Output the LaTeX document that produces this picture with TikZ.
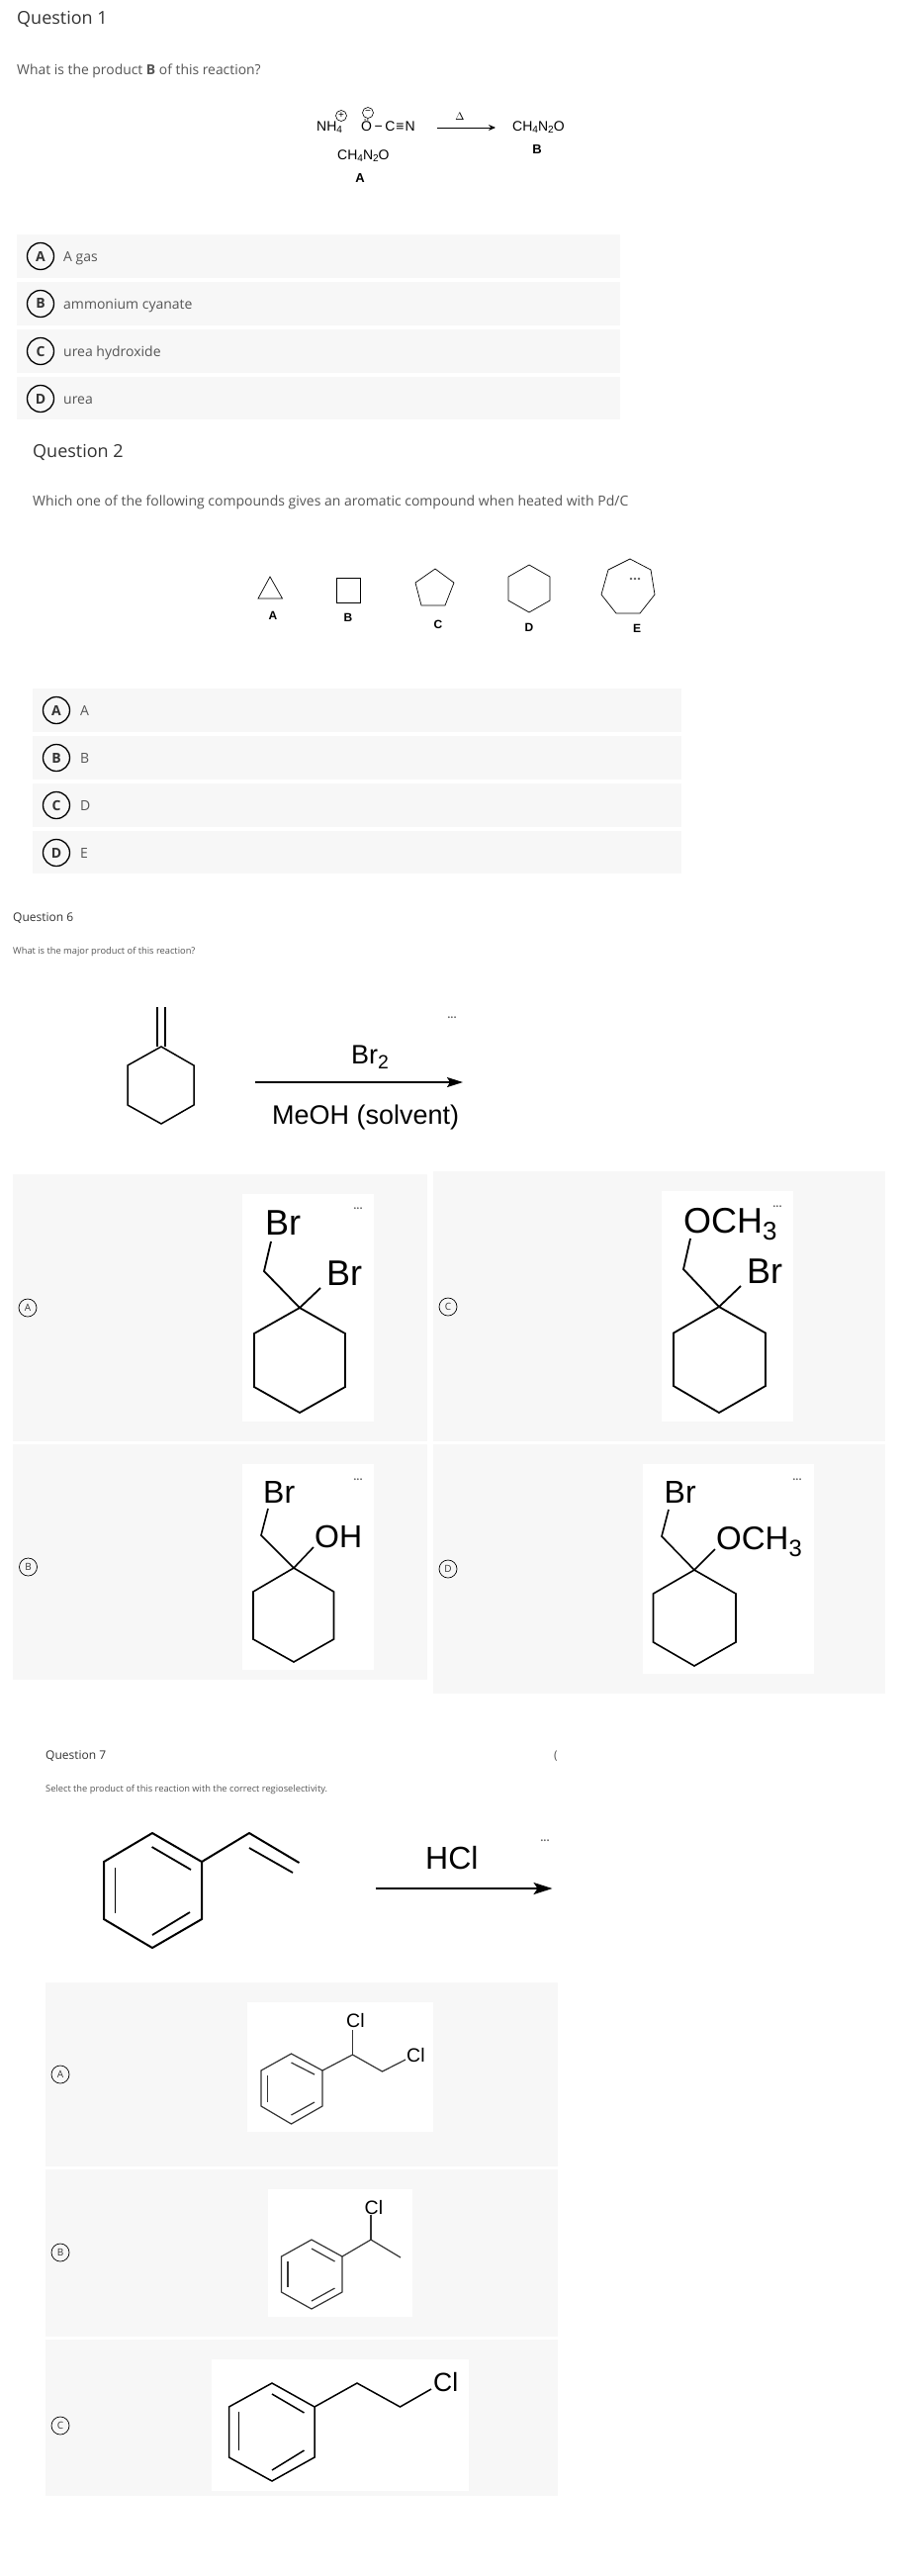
\documentclass[tikz,border=0pt]{standalone}
\usepackage{fontspec}
\setmainfont{Open Sans}
\newfontfamily\arial{Liberation Sans}
\usetikzlibrary{arrows.meta}
\definecolor{panelgray}{HTML}{F7F7F7}
\definecolor{headc}{HTML}{333333}
\definecolor{bodyc}{HTML}{555555}
\definecolor{dotc}{HTML}{666666}
\newcommand\fs[1]{\fontsize{#1}{#1}\selectfont}
\newcommand\subs[1]{\raisebox{-.2em}{\scalebox{.72}{#1}}}
\tikzset{
 panel/.style={fill=panelgray,draw=none},
 whitebox/.style={fill=white,draw=none},
 headtext/.style={anchor=base west,inner sep=0pt,text=headc,font=\fs{#1}},
 bodytext/.style={anchor=base west,inner sep=0pt,text=bodyc,font=\fs{#1}},
 chem/.style={anchor=base west,inner sep=0pt,text=black,font=\arial\fs{#1}},
 chemc/.style={anchor=base,inner sep=0pt,text=black,font=\arial\fs{#1}},
 chemb/.style={anchor=base,inner sep=0pt,text=black,font=\arial\bfseries\fs{#1}},
 optbig/.style={circle,draw=black,line width=1.3pt,minimum size=27pt,inner sep=0pt,text=headc,font=\bfseries\fs{14}},
 optsmall/.style={circle,draw=black,line width=.7pt,minimum size=18pt,inner sep=0pt,text=headc,font=\fs{10}},
 dotsn/.style={inner sep=0pt,text=dotc,font=\bfseries\fs{11}},
 bond/.style={draw=black,line width=#1,line join=miter},
 bond/.default=1.5pt,
}
\begin{document}
\begin{tikzpicture}[x=1pt,y=-1pt]
\path[use as bounding box,fill=white] (0,0) rectangle (912,2604);

%% ---------- Question 1
\node[headtext=18] (q1) at (17,25) {Question 1};
\node[bodytext=13.9] (q1t) at (17,75) {What is the product \textbf{B} of this reaction?};
\fill[panel] (17,237) rectangle (627,281);
\fill[panel] (17,285) rectangle (627,329);
\fill[panel] (17,333) rectangle (627,377);
\fill[panel] (17,381) rectangle (627,424);
\node[optbig] (q1a) at (41,259) {A};
\node[optbig] (q1b) at (41,307) {B};
\node[optbig] (q1c) at (41,355) {C};
\node[optbig] (q1d) at (41,403) {D};
\node[bodytext=14] (q1at) at (64,264) {A gas};
\node[bodytext=14] (q1bt) at (64,312) {ammonium cyanate};
\node[bodytext=14] (q1ct) at (64,360) {urea hydroxide};
\node[bodytext=14] (q1dt) at (64,408) {urea};
\node[chem=14] (nh) at (320,132) {NH\subs{4}};
\node[chem=14] (ocn) at (365,132) {Ö\kern2.5pt−\kern2.5ptC\kern1pt≡\kern1ptN};
\node[circle,draw=black,line width=.6pt,minimum size=11pt,inner sep=0pt,font=\arial\fs{10}] (plus) at (345,117) {+};
\node[circle,draw=black,line width=.6pt,minimum size=11pt,inner sep=0pt,font=\arial\fs{10}] (minus) at (372,114) {−};
\node[chem=14] (fa) at (341,161) {CH\subs{4}N\subs{2}O};
\node[chemb=13] (la) at (364,184) {A};
\node[anchor=base,inner sep=0pt,font=\fs{11}] (dl) at (465,121) {$\Delta$};
\coordinate (r1s) at (442,129);
\coordinate (r1e) at (501,129);
\draw[draw=black,line width=.9pt,-{Stealth[length=7pt,width=6pt]}] (r1s) -- (r1e);
\node[chem=14] (fb) at (518,132) {CH\subs{4}N\subs{2}O};
\node[chemb=13] (lb) at (543,155) {B};

%% ---------- Question 2
\node[headtext=18] (q2) at (33,462) {Question 2};
\node[bodytext=14] (q2t) at (33,511) {Which one of the following compounds gives an aromatic compound when heated with Pd/C};
\fill[panel] (33,696) rectangle (689,740);
\fill[panel] (33,744) rectangle (689,788);
\fill[panel] (33,792) rectangle (689,836);
\fill[panel] (33,840) rectangle (689,883);
\node[optbig] (q2a) at (57,718) {A};
\node[optbig] (q2b) at (57,766) {B};
\node[optbig] (q2c) at (57,814) {C};
\node[optbig] (q2d) at (57,862) {D};
\node[bodytext=14] (q2at) at (81,723) {A};
\node[bodytext=14] (q2bt) at (81,771) {B};
\node[bodytext=14] (q2ct) at (81,819) {D};
\node[bodytext=14] (q2dt) at (81,867) {E};
\draw[bond=.7pt] (273,583) -- (285.5,605) -- (261,605) -- cycle;
\draw[bond=.8pt] (340,584) rectangle (364,609);
\draw[bond=.7pt] (440,575) -- (459,589) -- (450,612) -- (426,612) -- (420,589) -- cycle;
\draw[bond=.7pt] (535,571) -- (556,583) -- (556,607) -- (535,619) -- (514,607) -- (514,583) -- cycle;
\draw[bond=.7pt] (637,565) -- (658,576) -- (662,601) -- (647,620) -- (623,620) -- (608,601) -- (615,576) -- cycle;
\node[dotsn,font=\bfseries\fs{14}] (e3) at (642,586) {...};
\node[chemb=12] (sa) at (276,626) {A};
\node[chemb=12] (sb) at (352,628) {B};
\node[chemb=12] (sc) at (443,635) {C};
\node[chemb=12] (sd) at (535,638) {D};
\node[chemb=12] (se) at (644,639) {E};

%% ---------- Question 6
\node[headtext=12] (q6) at (13,931) {Question 6};
\node[bodytext=9.3] (q6t) at (13,964) {What is the major product of this reaction?};
\draw[bond] (163,1058) -- (196,1077) -- (196,1117) -- (163,1136) -- (129,1117) -- (129,1077) -- cycle;
\draw[bond] (159,1058) -- (159,1018);
\draw[bond] (167,1058) -- (167,1018);
\node[dotsn] (r6d) at (457,1029) {...};
\node[chem=27] (br2) at (355,1075) {Br\subs{2}};
\coordinate (r6s) at (258,1094);
\coordinate (r6e) at (468,1094);
\draw[draw=black,line width=1.5pt,-{Stealth[length=16pt,width=10pt,inset=3pt]}] (r6s) -- (r6e);
\node[chem=27] (meoh) at (275,1136) {MeOH (solvent)};

\fill[panel] (13,1187) rectangle (432,1457);
\fill[panel] (13,1460) rectangle (432,1698);
\fill[panel] (437.5,1184) rectangle (894.5,1457);
\fill[panel] (437.5,1460) rectangle (894.5,1712);
\fill[whitebox] (245,1207) rectangle (378,1437);
\fill[whitebox] (669,1204) rectangle (802,1437);
\fill[whitebox] (245,1480) rectangle (378,1688);
\fill[whitebox] (649.5,1480) rectangle (823,1692);
\node[optsmall] (q6a) at (28,1322) {A};
\node[optsmall] (q6c) at (453,1321) {C};
\node[optsmall] (q6b) at (28.5,1584) {B};
\node[optsmall] (q6d) at (453,1586) {D};

% A
\draw[bond=1.8pt] (303,1322) -- (349,1348) -- (349,1402) -- (303,1428) -- (257,1402) -- (257,1348) -- cycle;
\draw[bond=1.8pt] (274,1255) -- (267,1285) -- (303,1322) -- (324,1302);
\node[chem=36] (a1) at (268,1248) {Br};
\node[chem=36] (a2) at (330,1299) {Br};
\node[dotsn] (ad) at (362,1222) {...};
% C
\draw[bond=1.8pt] (727,1321) -- (774,1347.5) -- (774,1401) -- (727,1428) -- (681,1401) -- (681,1347.5) -- cycle;
\draw[bond=1.8pt] (698,1252) -- (691,1283) -- (727,1321) -- (749,1300);
\node[chem=36] (c1) at (691,1246) {OCH\subs{3}};
\node[chem=36] (c2) at (755,1297.5) {Br};
\node[dotsn] (cd) at (786,1220) {...};
% B
\draw[bond=1.6pt] (297,1585) -- (337.5,1609) -- (337.5,1657) -- (297,1680) -- (256,1657) -- (256,1609) -- cycle;
\draw[bond=1.6pt] (271,1525) -- (264,1552) -- (297,1585) -- (317,1564);
\node[chem=32] (b1) at (266,1519.5) {Br};
\node[chem=32] (b2) at (318,1564.5) {OH};
\node[dotsn] (bd) at (362,1496) {...};
% D
\draw[bond=1.6pt] (702,1587) -- (744,1611) -- (744,1660) -- (702,1684) -- (660.5,1660) -- (660.5,1611) -- cycle;
\draw[bond=1.6pt] (676,1526) -- (669,1553) -- (702,1587) -- (723,1566);
\node[chem=32] (d1) at (671.5,1519.5) {Br};
\node[chem=33] (d2) at (724,1566.5) {OCH\subs{3}};
\node[dotsn] (dd) at (806,1496) {...};

%% ---------- Question 7
\node[headtext=12] (q7) at (46,1778) {Question 7};
\node[bodytext=9.3] (q7t) at (46,1811) {Select the product of this reaction with the correct regioselectivity.};
\node[bodytext=12] (q7p) at (560,1778) {(};
\draw[bond=2pt] (154,1853) -- (204,1882) -- (204,1940) -- (154,1969) -- (105,1940) -- (105,1882) -- cycle;
\draw[bond=1.8pt] (153.6,1867) -- (193,1890);
\draw[bond=1.8pt] (116.5,1888) -- (116.5,1934);
\draw[bond=1.8pt] (154,1956) -- (192,1933);
\draw[bond=2pt] (204,1882) -- (252,1853) -- (302.5,1883);
\draw[bond=1.8pt] (252,1868) -- (296,1893);
\node[chem=32] (hcl) at (430,1889) {HCl};
\node[dotsn] (r7d) at (551,1861) {...};
\coordinate (r7s) at (380,1909);
\coordinate (r7e) at (558.5,1909);
\draw[draw=black,line width=1.6pt,-{Stealth[length=19pt,width=12pt,inset=4pt]}] (r7s) -- (r7e);

\fill[panel] (46,2004) rectangle (564,2190);
\fill[panel] (46,2193) rectangle (564,2362);
\fill[panel] (46,2365) rectangle (564,2523);
\fill[whitebox] (249.5,2024) rectangle (438,2155);
\fill[whitebox] (270.5,2213) rectangle (417,2342);
\fill[whitebox] (213.5,2385) rectangle (474,2518);
\node[optsmall] (q7a) at (61,2097) {A};
\node[optsmall] (q7b) at (61,2277) {B};
\node[optsmall] (q7c) at (61,2452) {C};

% A
\draw[bond=1.2pt,draw=headc] (294.5,2076) -- (326,2093) -- (326,2129) -- (294.5,2147) -- (264,2129) -- (264,2093) -- cycle;
\draw[bond=1.2pt,draw=headc] (294.5,2085) -- (318,2097);
\draw[bond=1.2pt,draw=headc] (270.5,2098) -- (270.5,2125);
\draw[bond=1.2pt,draw=headc] (294.5,2138) -- (318,2125);
\draw[bond=1.2pt,draw=headc] (326,2093) -- (356.5,2077) -- (386.5,2094) -- (410,2082);
\draw[bond=1.2pt,draw=headc] (356.5,2077) -- (356.5,2052);
\node[chem=19.5] (acl1) at (350,2049) {Cl};
\node[chem=19.5] (acl2) at (411,2084) {Cl};
% B
\draw[bond=1.2pt,draw=headc] (315,2264) -- (346,2281) -- (346,2317) -- (315,2334) -- (284.5,2317) -- (284.5,2281) -- cycle;
\draw[bond=1.2pt,draw=headc] (315,2273) -- (338.5,2286);
\draw[bond=1.2pt,draw=headc] (291,2286) -- (291,2312);
\draw[bond=1.2pt,draw=headc] (315,2326) -- (338.5,2313);
\draw[bond=1.2pt,draw=headc] (346,2281) -- (375,2264) -- (405,2282);
\draw[bond=1.2pt,draw=headc] (375,2264) -- (375,2239);
\node[chem=19.5] (bcl) at (368.5,2238) {Cl};
% C
\draw[bond=1.5pt] (275,2409) -- (318,2433) -- (318,2484) -- (275,2508) -- (231.5,2484) -- (231.5,2433) -- cycle;
\draw[bond=1.5pt] (275,2420) -- (307.5,2439);
\draw[bond=1.5pt] (241.5,2438) -- (241.5,2477);
\draw[bond=1.5pt] (275,2497) -- (307.5,2477);
\draw[bond=1.5pt] (318,2433) -- (361,2409) -- (404.5,2433) -- (436,2415);
\node[chem=26.5] (ccl) at (438,2417.5) {Cl};
\end{tikzpicture}
\end{document}
